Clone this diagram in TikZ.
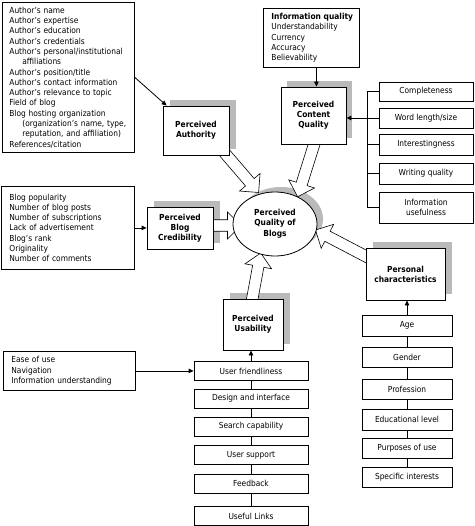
\documentclass[tikz,border=0pt]{standalone}
\usepackage{fontspec}
\setmainfont{DejaVu Sans}[FakeStretch=0.9]
\usetikzlibrary{arrows.meta,calc,shapes.geometric}
\pgfdeclarelayer{shad}
\pgfdeclarelayer{arrl}
\pgfsetlayers{shad,arrl,main}
\newcommand\blockarr[2]{%
  \coordinate (ba-h) at ($(#2)!13.5pt!(#1)$);
  \draw[blockarrow] ($(#1)!5.7pt!90:(#2)$) -- ($(ba-h)!5.7pt!-90:(#1)$) -- ($(ba-h)!13.5pt!-90:(#1)$) -- (#2) -- ($(ba-h)!13.5pt!90:(#1)$) -- ($(ba-h)!5.7pt!90:(#1)$) -- ($(#1)!5.7pt!-90:(#2)$) -- cycle;}
\begin{document}
\begin{tikzpicture}[x=1pt,y=-1pt,
  font=\fontsize{8.3}{10.3}\selectfont,
  box/.style={draw, fill=white, line width=0.8pt, inner sep=0pt, align=center},
  txtbox/.style={box, align=left},
  lbl/.style={box, font=\fontsize{8.3}{10}\selectfont\bfseries},
  itembox/.style={box},
  shadowc/.style={fill=black!27},
  arr/.style={-{Triangle[length=5pt,width=4.5pt]}, line width=0.8pt},
  link/.style={line width=0.8pt},
  blockarrow/.style={draw, fill=white, line width=0.6pt, line join=miter}]
\useasboundingbox (0,0) rectangle (474,526);

% ---- text boxes
\node[txtbox, anchor=north west, text width=118pt, inner xsep=7pt, minimum height=150pt] (author) at (2,2)
 {Author’s name\\Author’s expertise\\Author’s education\\Author’s credentials\\Author’s personal/institutional\\\hspace*{13pt}affiliations\\Author’s position/title\\Author’s contact information\\Author’s relevance to topic\\Field of blog\\Blog hosting organization\\\hspace*{13pt}(organization’s name, type,\\\hspace*{13pt}reputation, and affiliation)\\References/citation};

\node[txtbox, anchor=north west, text width=86pt, inner xsep=5pt, minimum height=59pt] (infoq) at (263,8)
 {\hspace*{3pt}\textbf{Information quality}\\\hspace*{3pt}Understandability\\\hspace*{3pt}Currency\\\hspace*{3pt}Accuracy\\\hspace*{3pt}Believability};

\node[txtbox, anchor=north west, text width=117pt, inner xsep=8pt, minimum height=83pt] (blogtext) at (1,186)
 {Blog popularity\\Number of blog posts\\Number of subscriptions\\Lack of advertisement\\Blog’s rank\\Originality\\Number of comments};

\node[txtbox, anchor=north west, text width=116pt, inner xsep=8pt, minimum height=39pt] (ease) at (3,351)
 {Ease of use\\Navigation\\Information understanding};

% ---- labelled construct boxes
\node[lbl, minimum width=66pt, minimum height=49pt] (auth) at (196,130.5) {Perceived\\Authority};
\node[lbl, minimum width=65pt, minimum height=57pt] (content) at (313.5,115.5) {Perceived\\Content\\Quality};
\node[lbl, minimum width=66pt, minimum height=42pt] (credib) at (180,228) {Perceived\\Blog\\Credibility};
\node[lbl, minimum width=79pt, minimum height=52pt] (personal) at (405.5,274) {Personal\\characteristics};
\node[lbl, minimum width=60pt, minimum height=51pt] (usab) at (253,324.5) {Perceived\\Usability};
\node[lbl, ellipse, minimum width=84pt, minimum height=64pt] (q) at (275,224) {\raisebox{2pt}{\shortstack{Perceived\\Quality of\\Blogs}}};

% ---- content quality items
\node[itembox, minimum width=94pt, minimum height=19pt] (compl) at (426,91.5) {Completeness};
\node[itembox, minimum width=94pt, minimum height=20pt] (wordlen) at (426,118) {Word length/size};
\node[itembox, minimum width=94pt, minimum height=21pt] (interest) at (426,144.5) {Interestingness};
\node[itembox, minimum width=94pt, minimum height=21pt] (writing) at (426,173.5) {Writing quality};
\node[itembox, minimum width=94pt, minimum height=31pt] (infouse) at (426,207.5) {Information\\usefulness};

% ---- usability items
\node[itembox, minimum width=114pt, minimum height=19pt] (uf) at (251,371) {User friendliness};
\node[itembox, minimum width=114pt, minimum height=19pt] (design) at (251,398.5) {Design and interface};
\node[itembox, minimum width=114pt, minimum height=19pt] (search) at (251,426.5) {Search capability};
\node[itembox, minimum width=114pt, minimum height=19pt] (support) at (251,455) {User support};
\node[itembox, minimum width=114pt, minimum height=19pt] (feedback) at (251,483.5) {Feedback};
\node[itembox, minimum width=114pt, minimum height=19pt] (links) at (251,516) {Useful Links};

% ---- personal items
\node[itembox, minimum width=90pt, minimum height=21pt] (age) at (407,325.5) {Age};
\node[itembox, minimum width=90pt, minimum height=20pt] (gender) at (407,357) {Gender};
\node[itembox, minimum width=90pt, minimum height=20pt] (prof) at (407,389) {Profession};
\node[itembox, minimum width=90pt, minimum height=21pt] (edu) at (407,419.5) {Educational level};
\node[itembox, minimum width=90pt, minimum height=20pt] (purp) at (407,448) {Purposes of use};
\node[itembox, minimum width=90pt, minimum height=20pt] (spec) at (407,477) {Specific interests};

% ---- shadows
\begin{pgfonlayer}{shad}
\foreach \n/\dx/\dy in {auth/7/-6, content/6/-6, credib/7/-6, personal/7/-6, usab/7/-6}{
  \fill[shadowc] ($(\n.south west)+(\dx,\dy)$) rectangle ($(\n.north east)+(\dx,\dy)$);}
\fill[shadowc] ($(q.center)+(6,-5)$) ellipse [x radius=42pt, y radius=32pt];
\end{pgfonlayer}

% ---- block arrows
\coordinate (aT) at (221.3,149);  \coordinate (aP) at (258.6,192.5);
\coordinate (cT) at (315.5,140);  \coordinate (cP) at (297.6,196.8);
\coordinate (bT) at (208,225.5);  \coordinate (bP) at (241,225.5);
\coordinate (uT) at (251.5,303);  \coordinate (uP) at (260.7,253);
\coordinate (pT) at (369,258);    \coordinate (pP) at (315.5,230);
\begin{pgfonlayer}{arrl}
\blockarr{aT}{aP}
\blockarr{cT}{cP}
\blockarr{bT}{bP}
\blockarr{uT}{uP}
\blockarr{pT}{pP}
\end{pgfonlayer}

% ---- connectors
\draw[arr] (author.east) -- ($(auth.north west)+(4,0)$);
\coordinate (iqa) at ($(infoq.south)+(5,0)$);
\draw[arr] (iqa) -- (iqa |- content.north);
\draw[arr] (blogtext.east) -- (blogtext.east -| credib.west);
\draw[arr] (ease.east) -- (ease.east -| uf.west);

\coordinate (bx) at (367,0);
\draw[link] (compl.west -| bx) -- (infouse.west -| bx);
\foreach \n in {compl, interest, writing, infouse}{\draw[link] (\n.west) -- (\n.west -| bx);}
\draw[arr] (wordlen.west) -- (wordlen.west -| content.east);

\draw[link] (uf) -- (design) (design) -- (search) (search) -- (support) (support) -- (feedback) (feedback) -- (links);
\draw[arr] (uf.north) -- (uf.north |- usab.south);

\draw[link] (age) -- (gender) (gender) -- (prof) (prof) -- (edu) (edu) -- (purp) (purp) -- (spec);
\draw[arr] (age.north) -- (age.north |- personal.south);
\end{tikzpicture}
\end{document}
